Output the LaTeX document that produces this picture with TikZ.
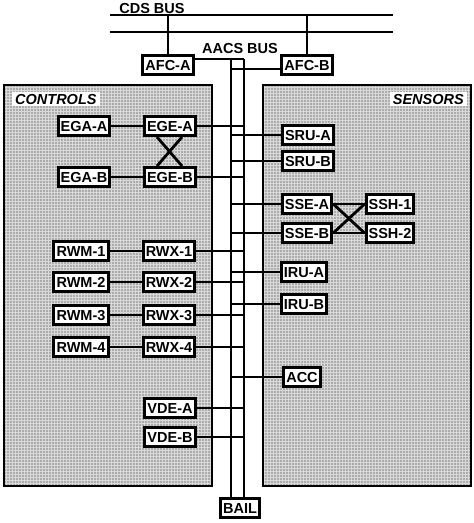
\documentclass[tikz,border=0pt]{standalone}
\usepackage{fontspec}
\setsansfont{Liberation Sans}
\begin{document}
\begin{tikzpicture}[x=1pt,y=-1pt,
  dev/.style={draw, line width=3pt, fill=white, font=\sffamily\bfseries\fontsize{14.5}{16}\selectfont,
    inner xsep=2.6pt, inner ysep=0pt, minimum height=19pt, text height=10.3pt, text depth=0pt},
  ln/.style={line width=2.8pt},
  thinln/.style={line width=1.3pt},
  cds/.style={line width=2.3pt},
  region/.style={draw, line width=2.8pt},
  regionfill/.style={fill=black!33},
  hatch/.style={white, line width=0.5pt, opacity=0.55},
  title/.style={font=\sffamily\bfseries\fontsize{14.5}{16}\selectfont, inner sep=0pt},
  rtitle/.style={font=\sffamily\bfseries\itshape\fontsize{14.5}{16}\selectfont, fill=white, inner xsep=3pt, inner ysep=2pt}
]
\useasboundingbox (0,0) rectangle (474,523);

% regions
\path[regionfill] (4,85) rectangle (212,486);
\path[regionfill] (263,85) rectangle (471,486);
\begin{scope}
  \clip (4,85) rectangle (212,486);
  \draw[hatch] (4,85) grid[step=3pt] (212,486);
\end{scope}
\begin{scope}
  \clip (263,85) rectangle (471,486);
  \draw[hatch] (263,85) grid[step=3pt] (471,486);
\end{scope}
\draw[region] (4,85) rectangle (212,486);
\draw[region] (263,85) rectangle (471,486);

\node[rtitle, anchor=base west] (ctl) at (12,104) {CONTROLS};
\node[rtitle, anchor=base east] (sen) at (467,104) {SENSORS};

% top labels
\node[title] (cdsl) at (152,9) {CDS BUS};
\node[title] (aacsl) at (240,49) {AACS BUS};

% CDS bus lines
\coordinate (c1l) at (110,15);
\coordinate (c1r) at (393,15);
\coordinate (c2l) at (110,32);
\coordinate (c2r) at (393,32);
\draw[cds] (c1l) -- (c1r);
\draw[cds] (c2l) -- (c2r);

% nodes
\node[dev] (afca) at (168,65) {AFC-A};
\node[dev] (afcb) at (307,65) {AFC-B};
\node[dev] (bail) at (240,508) {BAIL};

\node[dev] (egaa) at (84,126) {EGA-A};
\node[dev] (egea) at (170,126) {EGE-A};
\node[dev] (egab) at (84,177) {EGA-B};
\node[dev] (egeb) at (170,177) {EGE-B};
\node[dev] (rwm1) at (81,251) {RWM-1};
\node[dev] (rwx1) at (169,251) {RWX-1};
\node[dev] (rwm2) at (81,282) {RWM-2};
\node[dev] (rwx2) at (169,282) {RWX-2};
\node[dev] (rwm3) at (81,315) {RWM-3};
\node[dev] (rwx3) at (169,315) {RWX-3};
\node[dev] (rwm4) at (81,347) {RWM-4};
\node[dev] (rwx4) at (169,347) {RWX-4};
\node[dev] (vdea) at (170,408) {VDE-A};
\node[dev] (vdeb) at (170,437) {VDE-B};

\node[dev] (srua) at (308,135) {SRU-A};
\node[dev] (srub) at (308,161) {SRU-B};
\node[dev] (ssea) at (307,204) {SSE-A};
\node[dev] (ssh1) at (390,204) {SSH-1};
\node[dev] (sseb) at (307,233) {SSE-B};
\node[dev] (ssh2) at (390,233) {SSH-2};
\node[dev] (irua) at (304,272) {IRU-A};
\node[dev] (irub) at (304,304) {IRU-B};
\node[dev] (acc) at (302,377) {ACC};

% AACS bus
\coordinate (lt) at (231,59);
\coordinate (rt) at (244,59);
\coordinate (lb) at (231,69);
\draw[ln] (lt) -- (lt |- bail.north);
\draw[ln] (rt) -- (rt |- bail.north);
\draw[ln] (afca.east |- lt) -- (rt);
\draw[ln] (lb) -- (afcb.west |- lb);

% CDS drops
\draw[cds] (afca.north) -- (afca.north |- c1l);
\draw[cds] (afcb.north) -- (afcb.north |- c1l);

% controls internal links
\draw[ln] (egaa) -- (egea);
\draw[ln] (egab) -- (egeb);
\draw[ln] ([xshift=-13pt]egea.south) -- ([xshift=12pt]egeb.north);
\draw[ln] ([xshift=12pt]egea.south) -- ([xshift=-13pt]egeb.north);
\draw[ln] (rwm1) -- (rwx1);
\draw[thinln] (rwm2) -- (rwx2);
\draw[ln] (rwm3) -- (rwx3);
\draw[ln] (rwm4) -- (rwx4);

% sensors internal links
\draw[ln] (ssea.east) -- (ssh1.west);
\draw[ln] (sseb.east) -- (ssh2.west);
\draw[ln] (ssea.east) -- (ssh2.west);
\draw[ln] (sseb.east) -- (ssh1.west);

% controls to bus
\foreach \n in {egea,egeb,rwx1,rwx2,rwx3,rwx4,vdea,vdeb}
  \draw[ln] (\n.east) -- (\n.east -| rt);
% sensors to bus
\foreach \n in {srua,srub,ssea,sseb,irua,irub,acc}
  \draw[ln] (\n.west) -- (\n.west -| lt);
\end{tikzpicture}
\end{document}
